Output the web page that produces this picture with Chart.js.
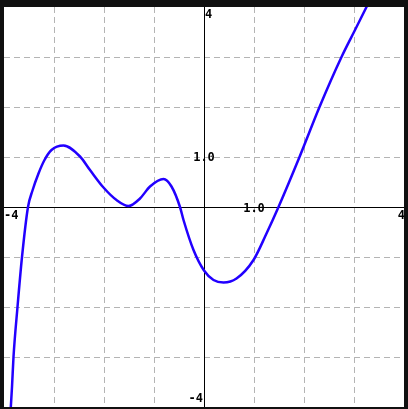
<!DOCTYPE html>
<html>
<head>
<meta charset="utf-8">
<script src="https://cdn.jsdelivr.net/npm/chart.js@4.4.0/dist/chart.umd.min.js"></script>
<style>
  html, body { margin: 0; padding: 0; background: #101010; }
  #wrap { width: 408px; height: 409px; }
</style>
</head>
<body>
<div id="wrap"><canvas id="plot" width="408" height="409"></canvas></div>
<script>
// curve samples
const xValues = [-3.87, -3.84, -3.81, -3.73, -3.64, -3.52, -3.43, -3.31, -3.19, -3.05, -2.81,
  -2.48, -2.28, -2.01, -1.75, -1.51, -1.28, -1.08, -0.81, -0.65, -0.48, -0.41, -0.21,
  0.0, 0.19, 0.39, 0.65, 0.99, 1.25, 1.49, 1.91, 2.31, 2.75, 3.02, 3.25, 3.3];
const yValues = [-4.1, -3.6, -3.0, -2.0, -1.0, 0.0, 0.33, 0.67, 0.94, 1.14, 1.23,
  1.01, 0.74, 0.39, 0.14, 0.02, 0.17, 0.41, 0.56, 0.41, 0.0, -0.26, -0.86,
  -1.27, -1.46, -1.51, -1.43, -1.06, -0.53, 0.0, 1.0, 2.0, 3.0, 3.54, 4.0, 4.1];

const axisMin = -4;
const axisMax = 4;
const unitLabel = '1.0';
const endLabels = ['-4', '4'];

const COLORS = {
  frame: '#101010',
  paper: '#ffffff',
  grid: '#b4b4b4',
  axis: '#000000',
  curve: '#2200ff',
  text: '#000000'
};
const FONT = 'bold 12px "DejaVu Sans Mono", "Liberation Mono", monospace';

const hideAxisGrid = ctx => {
  const v = ctx.tick && ctx.tick.value;
  return (v === 0 || v === axisMin || v === axisMax) ? 'rgba(0,0,0,0)' : COLORS.grid;
};

const gridScale = {
  type: 'linear',
  min: axisMin,
  max: axisMax,
  ticks: { display: false, stepSize: 1 },
  grid: { color: hideAxisGrid, lineWidth: 1, drawTicks: false },
  border: { display: false, dash: [6, 4] }
};

const framePlugin = {
  id: 'frame',
  beforeDraw(chart) {
    const { ctx, chartArea: a } = chart;
    ctx.save();
    ctx.fillStyle = COLORS.frame;
    ctx.fillRect(0, 0, chart.width, chart.height);
    ctx.fillStyle = COLORS.paper;
    ctx.fillRect(a.left, a.top, a.right - a.left, a.bottom - a.top);
    ctx.restore();
  },
  beforeDatasetsDraw(chart) {
    const { ctx, chartArea: a, scales } = chart;
    const x0 = Math.round(scales.x.getPixelForValue(0)) + 0.5;
    const y0 = Math.round(scales.y.getPixelForValue(0)) + 0.5;
    ctx.save();
    ctx.strokeStyle = COLORS.axis;
    ctx.lineWidth = 1;
    ctx.beginPath();
    ctx.moveTo(a.left, y0); ctx.lineTo(a.right, y0);
    ctx.moveTo(x0, a.top); ctx.lineTo(x0, a.bottom);
    ctx.stroke();
    ctx.restore();
  },
  afterDatasetsDraw(chart) {
    const { ctx, chartArea: a, scales } = chart;
    const x0 = scales.x.getPixelForValue(0);
    const y0 = scales.y.getPixelForValue(0);
    ctx.save();
    ctx.beginPath();
    ctx.rect(a.left, a.top, a.right - a.left, a.bottom - a.top);
    ctx.clip();
    ctx.fillStyle = COLORS.text;
    ctx.font = FONT;
    // unit labels
    ctx.textAlign = 'center';
    ctx.textBaseline = 'middle';
    ctx.fillText(unitLabel, scales.x.getPixelForValue(1), y0 + 2);
    ctx.fillText(unitLabel, x0, scales.y.getPixelForValue(1) + 1);
    // range labels
    ctx.textBaseline = 'top';
    ctx.textAlign = 'left';
    ctx.fillText(endLabels[1], x0 + 1, a.top + 2);
    ctx.fillText(endLabels[0], a.left, y0 + 3);
    ctx.textAlign = 'right';
    ctx.fillText(endLabels[1], a.right + 1, y0 + 3);
    ctx.textBaseline = 'bottom';
    ctx.fillText(endLabels[0], x0 - 1, a.bottom - 2);
    ctx.restore();
  }
};

new Chart(document.getElementById('plot'), {
  type: 'scatter',
  data: {
    datasets: [{
      data: xValues.map((x, i) => ({ x: x, y: yValues[i] })),
      showLine: true,
      borderColor: COLORS.curve,
      borderWidth: 2.5,
      pointRadius: 0,
      cubicInterpolationMode: 'monotone'
    }]
  },
  options: {
    responsive: false,
    animation: false,
    layout: { padding: { left: 4, right: 4, top: 7, bottom: 2 } },
    plugins: { legend: { display: false }, tooltip: { enabled: false } },
    scales: { x: gridScale, y: gridScale }
  },
  plugins: [framePlugin]
});
</script>
</body>
</html>
